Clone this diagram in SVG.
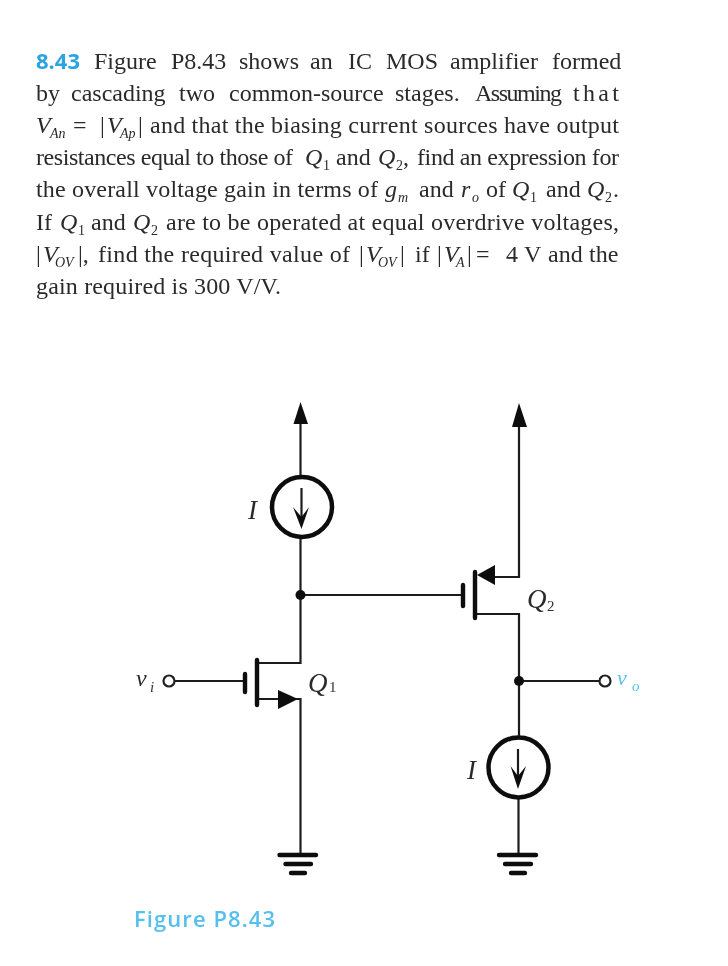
<svg xmlns="http://www.w3.org/2000/svg" width="728" height="966" viewBox="0 0 728 966">
<style>
.t{font-family:"Liberation Serif",serif;font-size:24px;fill:#2a2a2a}
.i{font-style:italic}
.s{font-size:14px;font-style:italic}
.n{font-size:14px}
.w{fill:none;stroke:#1c1c1c;stroke-width:2.2}
.b{fill:none;stroke:#111;stroke-width:4.4;stroke-linecap:round}
.c{fill:#fff;stroke:#111;stroke-width:4.5}
.o{fill:#fff;stroke:#222;stroke-width:2.2}
.d{fill:#111}
.l{font-family:"Liberation Serif",serif;font-style:italic;font-size:27px;fill:#2a2a2a}
.m{font-family:"Liberation Serif",serif;font-size:15px;fill:#333}
.v{font-family:"Liberation Serif",serif;font-style:italic;fill:#55c3ef}
</style>
<defs><filter id="soft" x="0" y="0" width="100%" height="100%"><feGaussianBlur stdDeviation="0.45"/></filter></defs>
<rect width="728" height="966" fill="#fff"/>
<g filter="url(#soft)">
<g id="problem-text">
<text x="36" y="69" font-family="Open Sans,sans-serif" font-weight="700" font-size="22" fill="#2ba3e0">8.43</text>
<text class="t" y="69"><tspan x="94">Figure</tspan><tspan x="171">P8.43</tspan><tspan x="239">shows</tspan><tspan x="310">an</tspan><tspan x="348">IC</tspan><tspan x="386">MOS</tspan><tspan x="450">amplifier</tspan><tspan x="552">formed</tspan></text>
<text class="t" y="101"><tspan x="36">by</tspan><tspan x="71">cascading</tspan><tspan x="179">two</tspan><tspan x="229">common-source</tspan><tspan x="395">stages.</tspan></text>
<text class="t" y="101" x="475" textLength="87">Assuming</text>
<text class="t" y="101" x="573" textLength="46">that</text>
<text class="t" y="133"><tspan x="36" class="i">V</tspan><tspan x="50" y="138" class="s">An</tspan><tspan x="73" y="133">=</tspan><tspan x="100">|</tspan><tspan x="107" class="i">V</tspan><tspan x="120" y="138" class="s">Ap</tspan><tspan x="138" y="133">|</tspan></text>
<text class="t" y="133" x="150" textLength="469">and that the biasing current sources have output</text>
<text class="t" y="165" x="36" textLength="257">resistances equal to those of</text>
<text class="t" y="165"><tspan x="305" class="i">Q</tspan><tspan x="323" y="170" class="n">1</tspan><tspan x="336" y="165">and</tspan><tspan x="378" class="i">Q</tspan><tspan x="396" y="170" class="n">2</tspan><tspan x="403" y="165">,</tspan></text>
<text class="t" y="165" x="417" textLength="202">find an expression for</text>
<text class="t" y="197" x="36" textLength="342">the overall voltage gain in terms of</text>
<text class="t" y="197"><tspan x="385" class="i">g</tspan><tspan x="398" y="202" class="s">m</tspan><tspan x="419" y="197">and</tspan><tspan x="461" class="i">r</tspan><tspan x="472" y="202" class="s">o</tspan><tspan x="486" y="197">of</tspan><tspan x="512" class="i">Q</tspan><tspan x="530" y="202" class="n">1</tspan><tspan x="546" y="197">and</tspan><tspan x="587" class="i">Q</tspan><tspan x="605" y="202" class="n">2</tspan><tspan x="613" y="197">.</tspan></text>
<text class="t" y="230"><tspan x="36">If</tspan><tspan x="60" class="i">Q</tspan><tspan x="78" y="235" class="n">1</tspan><tspan x="91" y="230">and</tspan><tspan x="133" class="i">Q</tspan><tspan x="151" y="235" class="n">2</tspan></text>
<text class="t" y="230" x="166" textLength="453">are to be operated at equal overdrive voltages,</text>
<text class="t" y="262"><tspan x="36">|</tspan><tspan x="43" class="i">V</tspan><tspan x="55" y="267" class="s">OV</tspan><tspan x="78" y="262">|,</tspan></text>
<text class="t" y="262" x="98" textLength="252">find the required value of</text>
<text class="t" y="262"><tspan x="359">|</tspan><tspan x="366" class="i">V</tspan><tspan x="378" y="267" class="s">OV</tspan><tspan x="400" y="262">|</tspan><tspan x="415">if</tspan><tspan x="437">|</tspan><tspan x="444" class="i">V</tspan><tspan x="456" y="267" class="s">A</tspan><tspan x="467" y="262">|</tspan><tspan x="476">=</tspan><tspan x="506">4</tspan><tspan x="524">V</tspan><tspan x="548">and</tspan><tspan x="589">the</tspan></text>
<text class="t" y="293.500" x="36" textLength="245">gain required is 300 V/V.</text>
</g>
<g id="connectors">
<path class="w" d="M300.500 424V477M300.500 537V663H258M258 699H300.500V855M300.500 595H463M174 681H245"/>
<path class="w" d="M519 427V577H490M476 614H519V737M519 681H600M518.500 797V855"/>
</g>
<g id="Q1">
<path class="b" d="M245 674V692"/><path class="b" d="M257 660V705"/>
<path class="d" d="M298 699L278 690V709Z"/>
<text class="l" x="308" y="692">Q</text><text class="m" x="329" y="692">1</text>
</g>
<g id="Q2">
<path class="b" d="M463 585V606"/><path class="b" d="M475 572V618"/>
<path class="d" d="M477 575L495 565V585Z"/>
<text class="l" x="527" y="608">Q</text><text class="m" x="547" y="611">2</text>
</g>
<g id="source-top">
<circle class="c" cx="302" cy="507" r="30"/>
<path class="w" d="M301.500 488V520"/><path class="d" d="M301.500 529L293 507L301.500 517L309 507Z"/>
<text class="l" x="248" y="519">I</text>
<path class="d" d="M300.500 402L293.500 424H308Z"/>
</g>
<g id="source-bottom">
<circle class="c" cx="518.500" cy="767.500" r="30"/>
<path class="w" d="M518 749V780"/><path class="d" d="M518 789L510.500 766L518 776L526 766Z"/>
<text class="l" x="467" y="779">I</text>
</g>
<g id="top-rail-Q2"><path class="d" d="M519 403L512 427H527Z"/></g>
<g id="junctions">
<circle class="d" cx="300.500" cy="595" r="5"/>
<circle class="d" cx="519" cy="681" r="5"/>
</g>
<g id="input"><circle class="o" cx="169" cy="681" r="5.500"/><text class="l" x="136" y="686" font-size="24" style="font-size:24px">v</text><text class="m" x="150" y="692" font-style="italic" style="font-style:italic">i</text></g>
<g id="output"><circle class="o" cx="605" cy="681" r="5.500"/><text class="v" x="617" y="685" font-size="22">v</text><text class="v" x="632" y="691" font-size="15">o</text></g>
<g id="ground-left"><path class="b" d="M279.500 855H316M285.500 864H311M291 873H305"/></g>
<g id="ground-right"><path class="b" d="M499 855H536M505 864H531M511 873H525"/></g>
<text id="caption" x="134" y="927" font-family="Open Sans,sans-serif" font-weight="600" font-size="22" fill="#55bfee" textLength="141">Figure P8.43</text>
</g>
</svg>
